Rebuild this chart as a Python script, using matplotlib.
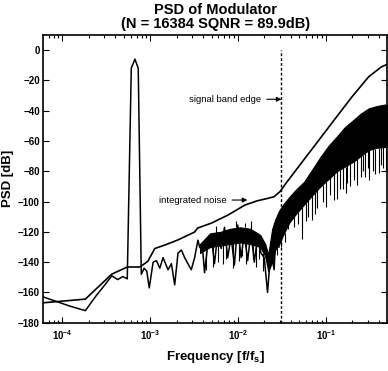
import numpy as np
import matplotlib
matplotlib.use('Agg')
import matplotlib.pyplot as plt

plt.rcParams['font.family'] = ['Liberation Sans', 'DejaVu Sans']
plt.rcParams['mathtext.fontset'] = 'custom'
plt.rcParams['mathtext.rm'] = 'Liberation Sans'
plt.rcParams['mathtext.bf'] = 'Liberation Sans:bold'

# PSD del modulador (f/fs, dB)
psd_f = [6.10e-5, 1.22e-4, 1.83e-4, 2.44e-4, 3.05e-4, 3.66e-4, 4.27e-4, 4.88e-4,
         5.49e-4, 6.10e-4, 6.71e-4, 7.32e-4, 7.93e-4, 8.54e-4, 9.16e-4, 9.77e-4,
         1.081e-3, 1.181e-3, 1.288e-3, 1.403e-3, 1.598e-3, 1.746e-3, 1.904e-3,
         2.076e-3, 2.27e-3, 2.47e-3, 2.69e-3, 2.94e-3, 3.21e-3, 3.50e-3, 3.66e-3,
         3.98e-3, 4.16e-3, 4.54e-3, 4.96e-3, 5.40e-3, 5.89e-3, 6.44e-3, 7.02e-3,
         7.64e-3, 8.35e-3, 9.10e-3, 9.93e-3, 1.084e-2, 1.181e-2, 1.288e-2,
         1.406e-2, 1.534e-2, 1.672e-2, 1.827e-2, 1.991e-2, 2.17e-2, 2.37e-2,
         2.58e-2, 2.70e-2, 2.94e-2]
psd_db = [-163, -169, -172, -162, -155, -149, -151.5, -149.5,
          -151, -12, -6, -12, -148, -144, -146, -157,
          -140, -139, -144, -137, -145, -141, -155,
          -134, -132, -137, -141, -145, -137, -125.5, -130,
          -133, -147, -128, -123, -141, -121, -131, -117,
          -137, -123, -142, -115.5, -137, -121, -139,
          -120, -140, -123, -134, -137, -160, -132,
          -145, -119, -130]

# banda densa del ruido (envolvente superior e inferior)
band_f = [3.7e-3, 4.8e-3, 6.3e-3, 8.1e-3, 1.06e-2, 1.38e-2, 1.79e-2, 2.04e-2,
          2.21e-2, 2.45e-2, 2.65e-2, 2.94e-2, 3.27e-2, 3.83e-2, 4.59e-2, 5.65e-2,
          6.97e-2, 8.7e-2, 0.108, 0.134, 0.164, 0.208, 0.249, 0.308, 0.379,
          0.467, 0.5]
band_hi = [-128, -121, -120, -118, -117, -118, -122, -128,
           -135, -118, -112, -106, -102, -97, -92, -87,
           -79, -70.5, -63, -57, -51, -46, -42, -38.5, -37,
           -36, -36]
band_lo = [-134, -130, -129, -128, -127, -128, -130, -136,
           -146, -140, -132, -128, -122, -114, -108, -102,
           -96, -90, -85, -80, -77, -73.5, -70, -66, -64.5,
           -64, -64]

# picos dentro de la banda (punta y base)
spk_f = [4.3e-3, 5.2e-3, 5.6e-3, 6.0e-3, 6.8e-3, 7.3e-3, 8.8e-3, 9.5e-3,
         1.02e-2, 1.12e-2, 1.2e-2, 1.25e-2, 1.42e-2, 1.5e-2, 1.62e-2, 1.75e-2,
         1.95e-2, 0.026, 0.028, 0.031, 0.034, 0.037, 0.043, 0.048, 0.0541,
         0.059, 0.063, 0.0702, 0.075, 0.08, 0.092, 0.0995, 0.112, 0.1236,
         0.133, 0.145, 0.155, 0.1676, 0.175, 0.19, 0.21, 0.227, 0.25, 0.265,
         0.281, 0.3, 0.308, 0.34, 0.36, 0.399, 0.42, 0.45, 0.48]
spk_tip = [-145, -143, -116, -140, -141, -138, -144, -113,
           -139, -136, -114, -141, -113, -138, -143, -138,
           -146, -138, -135, -130, -127, -118, -117, -115, -125,
           -113, -110, -112, -108, -104, -100, -103.5, -96, -99,
           -98, -92, -92, -94.6, -88, -90, -86, -89, -84, -80,
           -83.6, -78, -86, -80, -82, -81.4, -76, -78, -80]
spk_base = [-133, -129, -121, -129, -128, -128, -127, -117,
            -127, -127, -117, -127, -118, -128, -128, -129,
            -134, -132, -129, -125, -121, -112, -108, -106, -101,
            -101, -99, -96, -94, -92, -89, -87, -84, -82,
            -80, -79, -78, -77, -76, -75, -73, -72, -70, -69,
            -68, -66, -66, -65, -65, -64.5, -64, -64, -64]

# ruido integrado
int_f = [6.1e-5, 1.83e-4, 3.66e-4, 5.49e-4, 7.63e-4, 9.4e-4, 1.13e-3, 1.47e-3,
         2.06e-3, 3.21e-3, 3.47e-3, 5.0e-3, 7.7e-3, 1.2e-2, 1.66e-2, 2.15e-2,
         2.58e-2, 3.0e-2, 3.51e-2, 5.41e-2, 8.35e-2, 0.129, 0.199, 0.308, 0.432, 0.5]
int_db = [-166.8, -164.4, -147.9, -143.2, -143.2, -139.5, -131, -128.7,
          -125.4, -120.1, -117.5, -114.2, -108.9, -102.3, -99.5, -98,
          -96.8, -93.5, -88, -73.7, -59.4, -45, -30.8, -17.6, -11, -9.5]

N = 16384
f_edge = 1 / 32

fig = plt.figure(figsize=(3.88, 3.71), dpi=100)
ax = fig.add_axes([0.112, 0.130, 0.886, 0.776])

ax.fill_between(band_f, band_lo, band_hi, color='k', lw=0.8)
ax.vlines(spk_f, spk_tip, spk_base, color='k', lw=0.8)
ax.plot(psd_f, psd_db, color='k', lw=1.1)
ax.plot(int_f, int_db, color='k', lw=1.2)
ax.vlines(f_edge, -180, 0, color='k', lw=1.0, linestyles=(0, (2, 1.5)))

ax.set_xscale('log')
ax.set_xlim(1 / N, 0.5)
ax.set_ylim(-180, 10)
ax.set_yticks(np.arange(-180, 1, 20))
ax.set_xticks([1e-4, 1e-3, 1e-2, 1e-1])
ax.set_xticklabels([r'$\mathbf{10^{-4}}$', r'$\mathbf{10^{-3}}$',
                    r'$\mathbf{10^{-2}}$', r'$\mathbf{10^{-1}}$'])
ax.tick_params(which='both', direction='in', top=True, right=True, width=0.8)
ax.tick_params(which='major', length=4, labelsize=7)
ax.tick_params(which='minor', length=2)
ax.tick_params(axis='y', pad=2.5)
ax.tick_params(axis='x', pad=4)
for lab in ax.get_yticklabels():
    lab.set_fontweight('bold')
for s in ax.spines.values():
    s.set_linewidth(1.2)

ax.set_xlabel(r'Frequency [f/f$_\mathbf{s}$]', fontsize=9.5, fontweight='bold', labelpad=5)
ax.set_ylabel('PSD [dB]', fontsize=9.5, fontweight='bold', labelpad=3)
ax.set_title('PSD of Modulator\n(N = 16384 SQNR = 89.9dB)', fontsize=10.5,
             fontweight='bold', linespacing=1.0, pad=5)

ax.annotate('signal band edge', xy=(f_edge, -32.5), xytext=(0.0184, -32.5),
            ha='right', va='center', fontsize=6.8,
            arrowprops=dict(arrowstyle='-|>', color='k', lw=0.8, mutation_scale=7,
                            shrinkA=2, shrinkB=0))
ax.annotate('integrated noise', xy=(0.0128, -99), xytext=(0.0074, -99),
            ha='right', va='center', fontsize=6.8,
            arrowprops=dict(arrowstyle='-|>', color='k', lw=0.8, mutation_scale=7,
                            shrinkA=2, shrinkB=0))

plt.savefig('out.png', dpi=100)
